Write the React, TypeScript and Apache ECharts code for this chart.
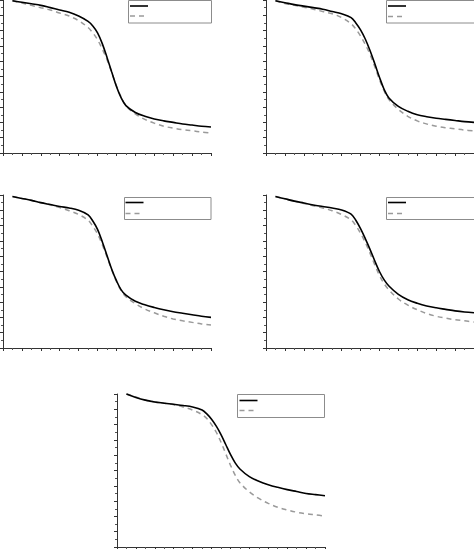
import React, { useEffect, useRef } from "react";
import * as echarts from "echarts";

// x positions of the sampled readings (same for all panels)
const xs = [1, 2, 3, 4, 5, 6, 7, 8, 9, 9.5, 10, 10.5, 11, 11.5, 12, 12.5, 13, 14, 15, 16, 17, 18, 19, 20, 21, 22];

const p1Solid = [19.9, 19.7, 19.5, 19.3, 19.0, 18.7, 18.4, 17.9, 17.2, 16.6, 15.7, 14.3, 12.5, 10.6, 8.7, 7.2, 6.2, 5.3, 4.8, 4.45, 4.2, 4.0, 3.8, 3.65, 3.5, 3.4];
const p1Dashed = [19.9, 19.6, 19.3, 19.0, 18.7, 18.3, 17.9, 17.3, 16.4, 15.7, 14.8, 13.6, 12.2, 10.5, 8.8, 7.3, 6.2, 5.1, 4.4, 3.9, 3.5, 3.25, 3.05, 2.9, 2.75, 2.6];
const p2Solid = [19.9, 19.65, 19.4, 19.2, 19.0, 18.8, 18.5, 18.2, 17.7, 17.0, 16.1, 14.9, 13.4, 11.7, 9.9, 8.3, 7.2, 6.1, 5.45, 5.0, 4.75, 4.55, 4.4, 4.25, 4.1, 4.0];
const p2Dashed = [19.9, 19.55, 19.3, 19.05, 18.8, 18.5, 18.2, 17.7, 16.9, 16.2, 15.3, 14.2, 12.9, 11.3, 9.6, 8.1, 7.0, 5.7, 4.8, 4.2, 3.8, 3.5, 3.3, 3.15, 3.0, 2.9];
const p3Solid = [19.8, 19.55, 19.3, 19.0, 18.75, 18.5, 18.3, 18.0, 17.4, 16.6, 15.5, 13.9, 12.1, 10.3, 8.8, 7.6, 6.9, 6.1, 5.65, 5.3, 5.0, 4.75, 4.55, 4.35, 4.15, 4.0];
const p3Dashed = [19.8, 19.55, 19.3, 19.0, 18.7, 18.35, 17.95, 17.45, 16.7, 15.9, 14.9, 13.5, 11.9, 10.2, 8.7, 7.5, 6.7, 5.8, 5.1, 4.6, 4.15, 3.8, 3.55, 3.35, 3.15, 3.0];
const p4Solid = [19.8, 19.5, 19.2, 18.95, 18.7, 18.5, 18.3, 18.05, 17.5, 16.7, 15.6, 14.3, 12.9, 11.4, 10.0, 8.9, 8.1, 7.0, 6.3, 5.85, 5.5, 5.25, 5.05, 4.85, 4.7, 4.6];
const p4Dashed = [19.8, 19.5, 19.2, 18.9, 18.6, 18.3, 17.95, 17.45, 16.75, 16.0, 15.0, 13.8, 12.4, 10.9, 9.5, 8.4, 7.6, 6.4, 5.6, 5.0, 4.5, 4.15, 3.9, 3.7, 3.55, 3.4];
const p5Solid = [20.0, 19.55, 19.2, 18.95, 18.8, 18.65, 18.5, 18.3, 17.9, 17.4, 16.7, 15.8, 14.7, 13.4, 12.1, 11.0, 10.2, 9.2, 8.6, 8.15, 7.8, 7.5, 7.25, 7.0, 6.85, 6.7];
const p5Dashed = [20.0, 19.6, 19.2, 18.95, 18.8, 18.6, 18.3, 17.9, 17.3, 16.8, 16.0, 15.0, 13.7, 12.2, 10.7, 9.4, 8.4, 7.2, 6.35, 5.7, 5.2, 4.85, 4.55, 4.35, 4.2, 4.05];

const panels = [
  { solid: p1Solid, dashed: p1Dashed },
  { solid: p2Solid, dashed: p2Dashed },
  { solid: p3Solid, dashed: p3Dashed },
  { solid: p4Solid, dashed: p4Dashed },
  { solid: p5Solid, dashed: p5Dashed },
];

// layout (pixels)
const gridPos = [
  { left: 3, top: 0 },
  { left: 266, top: 0 },
  { left: 3, top: 195 },
  { left: 266, top: 195 },
  { left: 117, top: 394 },
];
const legendPos = [
  { x: 128.5, y: 0.5, w: 83, h: 22.5, lx: 130, sy: 6, dy: 16 },
  { x: 386.5, y: 0.5, w: 92, h: 22.5, lx: 388, sy: 6, dy: 16.5 },
  { x: 124.5, y: 197.5, w: 86.5, h: 22, lx: 125.5, sy: 202.5, dy: 213.5 },
  { x: 386.5, y: 197.5, w: 92, h: 22, lx: 388, sy: 202.5, dy: 213.5 },
  { x: 237.5, y: 394.5, w: 87, h: 23, lx: 239.5, sy: 400.5, dy: 410.5 },
];

const pair = (ys: number[]) => xs.map((x, i) => [x, ys[i]]);

export default function App() {
  const ref = useRef<HTMLDivElement>(null);
  useEffect(() => {
    if (!ref.current) return;
    const chart = echarts.init(ref.current, null, { renderer: "svg" });
    const axisCommon = {
      axisLabel: { show: false },
      splitLine: { show: false },
      axisLine: { show: true, onZero: false, lineStyle: { color: "#333", width: 1 } },
      axisTick: { show: true, inside: false, length: 3, lineStyle: { color: "#333" } },
      minorTick: { show: true, splitNumber: 2, length: 2, lineStyle: { color: "#555" } },
      minorSplitLine: { show: false },
    };
    const grids = gridPos.map((g) => ({ left: g.left, top: g.top, width: 208, height: 153, containLabel: false }));
    const xAxes = gridPos.map((_, i) => ({ type: "value", gridIndex: i, min: 0, max: 22, interval: 2, ...axisCommon }));
    const yAxes = gridPos.map((_, i) => ({ type: "value", gridIndex: i, min: 0, max: 20, interval: 2, ...axisCommon }));
    const series: any[] = [];
    panels.forEach((p, i) => {
      series.push({
        type: "line",
        xAxisIndex: i,
        yAxisIndex: i,
        data: pair(p.dashed),
        smooth: 0.35,
        showSymbol: false,
        symbol: "none",
        clip: false,
        lineStyle: { color: "#9a9a9a", width: 1.5, type: [5, 4] },
      });
      series.push({
        type: "line",
        xAxisIndex: i,
        yAxisIndex: i,
        data: pair(p.solid),
        smooth: 0.35,
        showSymbol: false,
        symbol: "none",
        clip: false,
        lineStyle: { color: "#000", width: 1.6 },
      });
    });
    const graphic: any[] = [];
    legendPos.forEach((l) => {
      graphic.push({
        type: "rect",
        shape: { x: l.x, y: l.y, width: l.w, height: l.h },
        style: { fill: "#fff", stroke: "#8c8c8c", lineWidth: 1 },
        z: 100,
      });
      graphic.push({
        type: "line",
        shape: { x1: l.lx, y1: l.sy, x2: l.lx + 18, y2: l.sy },
        style: { stroke: "#000", lineWidth: 1.6 },
        z: 101,
      });
      graphic.push({
        type: "line",
        shape: { x1: l.lx, y1: l.dy, x2: l.lx + 18, y2: l.dy },
        style: { stroke: "#9a9a9a", lineWidth: 1.5, lineDash: [5, 4] },
        z: 101,
      });
    });
    chart.setOption({
      animation: false,
      backgroundColor: "#fff",
      grid: grids,
      xAxis: xAxes,
      yAxis: yAxes,
      series,
      graphic,
    });
    return () => chart.dispose();
  }, []);
  return (
    <div
      ref={ref}
      style={{ position: "absolute", left: 0, top: 0, width: 474, height: 549 }}
    />
  );
}
